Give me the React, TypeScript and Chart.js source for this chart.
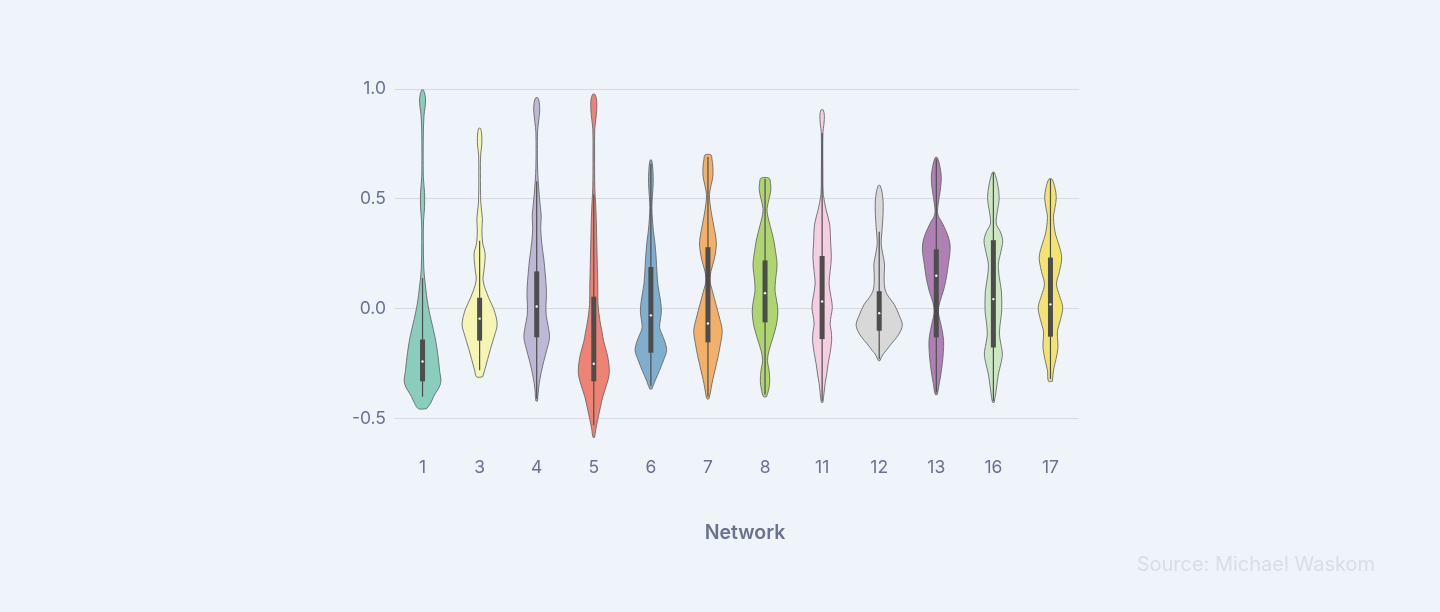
import React, { useEffect, useRef } from 'react';
import { Chart, registerables } from 'chart.js';
Chart.register(...registerables);

const networks = ['1', '3', '4', '5', '6', '7', '8', '11', '12', '13', '16', '17'];
const yTicks = [-0.5, 0, 0.5, 1.0];
const colors = ['#8acdbd', '#f5f5b4', '#bcb8d6', '#ee8274', '#80aecd', '#f2b068', '#afd570', '#f5cfe1', '#d8d8d8', '#ae80b3', '#cbe7c4', '#f3e472'];

// density profiles: [value, density] read from bottom to top
const density1 = [[-0.455, 4], [-0.43, 8], [-0.40, 11], [-0.34, 18], [-0.28, 17], [-0.20, 15], [-0.13, 12.5], [-0.05, 8.5], [0.02, 5.3], [0.10, 3], [0.18, 1.3], [0.30, 0.8], [0.40, 1], [0.46, 2], [0.53, 2], [0.60, 0.8], [0.80, 0.8], [0.88, 1.5], [0.95, 3], [0.995, 1]];
const density3 = [[-0.31, 3], [-0.28, 5], [-0.18, 11], [-0.12, 15], [-0.07, 17.5], [0.0, 14], [0.05, 9], [0.127, 3.5], [0.18, 4.5], [0.25, 5.5], [0.30, 3], [0.36, 2.3], [0.41, 2.8], [0.48, 1.2], [0.62, 0.8], [0.70, 1], [0.74, 2], [0.78, 2.2], [0.82, 1]];
const density4 = [[-0.42, 0.8], [-0.38, 1.5], [-0.34, 2.5], [-0.29, 4.5], [-0.24, 7], [-0.18, 10.5], [-0.13, 12.8], [-0.08, 11.5], [-0.03, 9.5], [0.02, 9.3], [0.06, 9.7], [0.10, 9.5], [0.16, 8.5], [0.23, 7], [0.30, 5], [0.37, 4], [0.42, 4.5], [0.47, 3.5], [0.52, 2.5], [0.58, 1.5], [0.65, 0.8], [0.80, 0.8], [0.85, 1.8], [0.90, 3], [0.94, 2.5], [0.96, 1]];
const density5 = [[-0.585, 0.8], [-0.55, 2], [-0.51, 3.7], [-0.45, 6.5], [-0.40, 9], [-0.35, 12.5], [-0.30, 15.3], [-0.25, 15], [-0.20, 13], [-0.15, 10], [-0.10, 8], [-0.05, 6], [0.02, 4.2], [0.10, 4], [0.20, 3.5], [0.30, 3], [0.40, 2.5], [0.48, 1.8], [0.55, 1], [0.70, 0.8], [0.82, 1], [0.88, 2.5], [0.94, 3], [0.975, 1.2]];
const density6 = [[-0.365, 1], [-0.33, 4], [-0.28, 8.7], [-0.23, 13], [-0.19, 15.7], [-0.15, 14], [-0.11, 10.5], [-0.085, 8.7], [-0.05, 9.5], [-0.01, 10.5], [0.04, 9.5], [0.11, 7], [0.17, 6], [0.23, 5.3], [0.30, 4], [0.355, 2.5], [0.41, 1.5], [0.46, 1], [0.51, 1.5], [0.57, 2.3], [0.63, 2], [0.676, 0.8]];
const density7 = [[-0.41, 1], [-0.38, 2.5], [-0.34, 4], [-0.28, 7], [-0.22, 10], [-0.16, 12.5], [-0.10, 14.2], [-0.05, 12], [0.02, 8], [0.08, 4.5], [0.127, 2], [0.17, 3], [0.22, 6], [0.27, 8], [0.31, 8.3], [0.36, 6.5], [0.42, 4], [0.48, 2], [0.52, 1.5], [0.56, 3], [0.60, 4.8], [0.64, 5], [0.68, 4], [0.70, 3]];
const density8 = [[-0.40, 1.5], [-0.37, 3.5], [-0.33, 4.7], [-0.28, 4], [-0.236, 2.5], [-0.19, 4], [-0.13, 8], [-0.07, 11.5], [-0.01, 12.8], [0.04, 11.5], [0.08, 10], [0.13, 10.5], [0.20, 12], [0.26, 10.5], [0.32, 8.3], [0.38, 5], [0.445, 2], [0.49, 3.5], [0.536, 5.7], [0.57, 5.5], [0.594, 4]];
const density11 = [[-0.426, 0.8], [-0.38, 2], [-0.34, 3], [-0.30, 4.5], [-0.25, 6], [-0.20, 8], [-0.145, 9.5], [-0.10, 9], [-0.07, 8], [-0.03, 9], [0.006, 10.2], [0.05, 9], [0.112, 7], [0.17, 8], [0.233, 9.2], [0.30, 8.5], [0.385, 7.5], [0.45, 4], [0.52, 1.2], [0.60, 0.8], [0.80, 0.8], [0.84, 1.8], [0.88, 2.2], [0.905, 1]];
const density12 = [[-0.236, 0.8], [-0.21, 3.5], [-0.19, 7], [-0.16, 12], [-0.13, 17.5], [-0.10, 21.5], [-0.07, 23], [-0.03, 20], [0.02, 15], [0.05, 10], [0.08, 6.3], [0.12, 5], [0.16, 5], [0.203, 5.3], [0.25, 3.5], [0.294, 2], [0.34, 2.5], [0.40, 3.5], [0.46, 4], [0.51, 3.5], [0.56, 1]];
const density13 = [[-0.39, 1], [-0.34, 3], [-0.30, 4.5], [-0.25, 6], [-0.20, 7], [-0.145, 7.3], [-0.09, 5.5], [-0.04, 3], [-0.01, 2], [0.03, 3.5], [0.08, 7], [0.14, 10], [0.203, 12], [0.25, 13.5], [0.294, 13.7], [0.34, 11], [0.39, 6], [0.43, 1.5], [0.48, 2], [0.54, 4], [0.597, 5], [0.65, 3.5], [0.688, 1]];
const density16 = [[-0.426, 0.8], [-0.38, 2.5], [-0.297, 5], [-0.25, 7.5], [-0.206, 9], [-0.16, 7.5], [-0.115, 6], [-0.06, 7], [-0.01, 8.3], [0.08, 8], [0.14, 6], [0.203, 5], [0.26, 7.5], [0.31, 9.3], [0.35, 7], [0.385, 3], [0.43, 3.5], [0.47, 5], [0.506, 5.8], [0.56, 4.5], [0.62, 1]];
const density17 = [[-0.33, 2], [-0.28, 3], [-0.23, 5.5], [-0.176, 7.5], [-0.13, 7], [-0.10, 7], [-0.05, 10], [0.006, 12.2], [0.06, 9], [0.112, 6], [0.17, 9], [0.233, 11.2], [0.29, 8.5], [0.34, 5], [0.415, 3], [0.46, 4.5], [0.506, 5.8], [0.55, 4.5], [0.59, 1.5]];
const densities = [density1, density3, density4, density5, density6, density7, density8, density11, density12, density13, density16, density17];

// box statistics
const whiskerLow = [-0.40, -0.28, -0.41, -0.53, -0.35, -0.40, -0.39, -0.42, -0.23, -0.38, -0.42, -0.32];
const q1 = [-0.33, -0.145, -0.13, -0.33, -0.20, -0.153, -0.062, -0.138, -0.10, -0.13, -0.176, -0.127];
const medians = [-0.24, -0.045, 0.01, -0.25, -0.03, -0.067, 0.071, 0.033, -0.02, 0.15, 0.044, 0.02];
const q3 = [-0.14, 0.05, 0.17, 0.055, 0.19, 0.28, 0.22, 0.24, 0.08, 0.27, 0.312, 0.233];
const whiskerHigh = [0.14, 0.31, 0.58, 0.52, 0.66, 0.69, 0.59, 0.80, 0.35, 0.68, 0.62, 0.59];

const DENSITY_SCALE = 1 / 57;
const TEXT = '#6b7192';

function violinPoints(i: number, prof: number[][]) {
  const right = prof.map(([y, d]) => ({ x: i + d * DENSITY_SCALE, y }));
  const left = prof.slice().reverse().map(([y, d]) => ({ x: i - d * DENSITY_SCALE, y }));
  return [...right, ...left, right[0]];
}

export default function App() {
  const ref = useRef<HTMLCanvasElement | null>(null);
  useEffect(() => {
    if (!ref.current) return;
    Chart.defaults.font.family = 'Inter, sans-serif';
    const datasets: any[] = [];
    networks.forEach((_, i) => {
      datasets.push({
        type: 'line',
        data: violinPoints(i, densities[i]),
        borderColor: 'rgba(100,100,100,0.85)',
        borderWidth: 1,
        backgroundColor: colors[i],
        fill: 'shape',
        tension: 0.35,
        pointRadius: 0,
        order: 3,
      });
      datasets.push({
        type: 'line',
        data: [{ x: i, y: whiskerLow[i] }, { x: i, y: whiskerHigh[i] }],
        borderColor: '#4d4d4d',
        borderWidth: 1.2,
        pointRadius: 0,
        fill: false,
        order: 2,
      });
      datasets.push({
        type: 'line',
        data: [{ x: i, y: q1[i] }, { x: i, y: q3[i] }],
        borderColor: '#4d4d4d',
        borderWidth: 5,
        borderCapStyle: 'butt',
        pointRadius: 0,
        fill: false,
        order: 1,
      });
    });
    datasets.push({
      type: 'line',
      data: medians.map((m, i) => ({ x: i, y: m })),
      showLine: false,
      pointRadius: 1.2,
      pointBackgroundColor: '#f4f4f4',
      pointBorderWidth: 0,
      order: 0,
    });
    const chart = new Chart(ref.current, {
      type: 'line',
      data: { datasets },
      options: {
        animation: false,
        responsive: false,
        events: [],
        layout: { padding: { top: 89, right: 361, left: 0, bottom: 0 } },
        plugins: { legend: { display: false }, tooltip: { enabled: false } },
        scales: {
          x: {
            type: 'linear',
            min: -0.5,
            max: 11.5,
            afterBuildTicks: (s: any) => { s.ticks = networks.map((_, i) => ({ value: i })); },
            afterFit: (s: any) => { s.height = 167; },
            ticks: {
              callback: (v: any) => networks[v as number],
              color: TEXT,
              font: { size: 17.5 },
              padding: 12,
              maxRotation: 0,
              autoSkip: false,
            },
            grid: { display: false, drawTicks: false },
            border: { display: false },
          },
          y: {
            min: -0.62,
            max: 1.0,
            afterBuildTicks: (s: any) => { s.ticks = yTicks.map((v) => ({ value: v })); },
            afterFit: (s: any) => { s.width = 394; },
            ticks: {
              callback: (v: any) => Number(v).toFixed(1),
              color: TEXT,
              font: { size: 17.5 },
              padding: 8,
            },
            grid: { color: '#d8dadd', lineWidth: 1, drawTicks: false },
            border: { display: false },
          },
        },
      },
    });
    return () => chart.destroy();
  }, []);
  return (
    <div style={{ position: 'fixed', inset: 0, background: '#eff3fa', fontFamily: 'Inter, sans-serif' }}>
      <canvas ref={ref} width={1440} height={612} style={{ position: 'absolute', left: 0, top: 0, width: 1440, height: 612 }} />
      <div style={{ position: 'absolute', left: 645, width: 200, top: 520, lineHeight: '24px', textAlign: 'center', fontSize: 19.5, fontWeight: 600, color: TEXT }}>Network</div>
      <div style={{ position: 'absolute', right: 65, top: 552, lineHeight: '24px', fontSize: 20, color: '#d9dde7' }}>Source: Michael Waskom</div>
    </div>
  );
}
